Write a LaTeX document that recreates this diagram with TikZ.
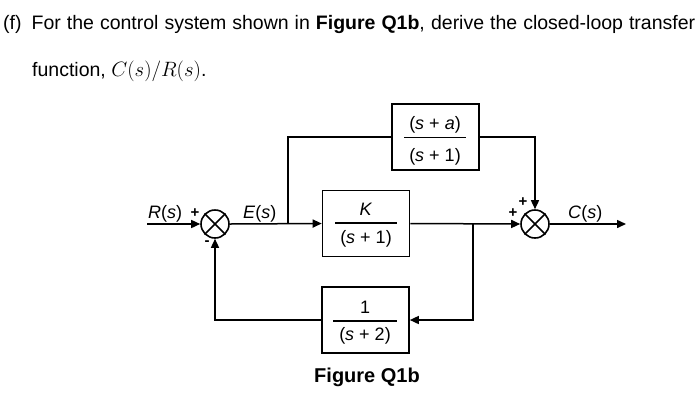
\documentclass[tikz,border=0pt]{standalone}
\usepackage{fontspec}
\setmainfont{Liberation Sans}
\usetikzlibrary{arrows.meta}
\tikzset{
  sig/.style={line width=1.5pt},
  arr/.style={sig,-{Triangle[length=9pt,width=8pt]}},
  blk/.style={draw,line width=1.6pt,minimum width=87pt,minimum height=66pt,inner sep=0pt},
  summ/.style={draw,circle,line width=1.6pt,minimum size=28pt,inner sep=0pt},
  fracline/.style={line width=1.5pt},
  lbl/.style={font=\fontsize{18}{20}\selectfont,inner sep=0pt,anchor=base west},
  ftxt/.style={font=\fontsize{18}{20}\selectfont,inner sep=0pt,anchor=base},
  sgn/.style={font=\fontsize{15}{16}\selectfont\bfseries,inner sep=0pt},
  ttl/.style={font=\fontsize{19.5}{22}\selectfont,inner sep=0pt,anchor=base west}
}
\begin{document}
\begin{tikzpicture}[x=1pt,y=-1pt]
\useasboundingbox[fill=white] (0,0) rectangle (700,400);
% title
\node[ttl] (t1) at (3,29) {\makebox[692pt][s]{(f)\hspace{4pt} For the control system shown in \textbf{Figure Q1b}, derive the closed-loop transfer}};
\node[ttl] (t2) at (32,76) {function, $C(s)/R(s)$.};
% blocks
\node[blk] (G1) at (435.5,137) {};
\node[blk] (K) at (366,223.5) {};
\node[blk] (H) at (365.5,320) {};
% fractions
\node[ftxt] (g1n) at (435,129) {(\textit{s} + \textit{a})};
\draw[fracline] (404,137.5) -- (466,137.5);
\node[ftxt] (g1d) at (435,161) {(\textit{s} + 1)};
\node[ftxt] (kn) at (366,215) {\textit{K}};
\draw[fracline] (335,223) -- (397,223);
\node[ftxt] (kd) at (366,243) {(\textit{s} + 1)};
\node[ftxt] (hn) at (365,313) {1};
\draw[fracline] (333,321) -- (397,321);
\node[ftxt] (hd) at (365,340) {(\textit{s} + 2)};
% summing junctions
\node[summ] (s1) at (215,224) {};
\draw[sig] (s1.45) -- (s1.225) (s1.135) -- (s1.-45);
\node[summ] (s2) at (535,224) {};
\draw[sig] (s2.45) -- (s2.225) (s2.135) -- (s2.-45);
% coordinates
\coordinate (in) at (147,224);
\coordinate (out) at (626,224);
\coordinate (b1) at (288,224);
\coordinate (b2) at (473,224);
% connectors
\draw[arr] (in) -- (s1.west);
\draw[arr] (s1.east) -- (K.west);
\draw[sig] (b1) |- (G1.west);
\draw[arr] (G1.east) -| (s2.north);
\draw[arr] (K.east) -- (s2.west);
\draw[arr] (b2) |- (H.east);
\draw[arr] (H.west) -| (s1.south);
\draw[arr] (s2.east) -- (out);
% labels
\node[lbl] (lR) at (148,218) {\textit{R}(\textit{s})};
\node[lbl] (lE) at (243,218) {\textit{E}(\textit{s})};
\node[lbl] (lC) at (568,218) {\textit{C}(\textit{s})};
\node[sgn] (p1) at (195,213) {+};
\node[sgn] (m1) at (207,243) {-};
\node[sgn] (p2) at (523,202) {+};
\node[sgn] (p3) at (513,213) {+};
\node[font=\fontsize{20}{22}\selectfont\bfseries,inner sep=0pt,anchor=base] (fig) at (367,382) {Figure Q1b};
\end{tikzpicture}
\end{document}
